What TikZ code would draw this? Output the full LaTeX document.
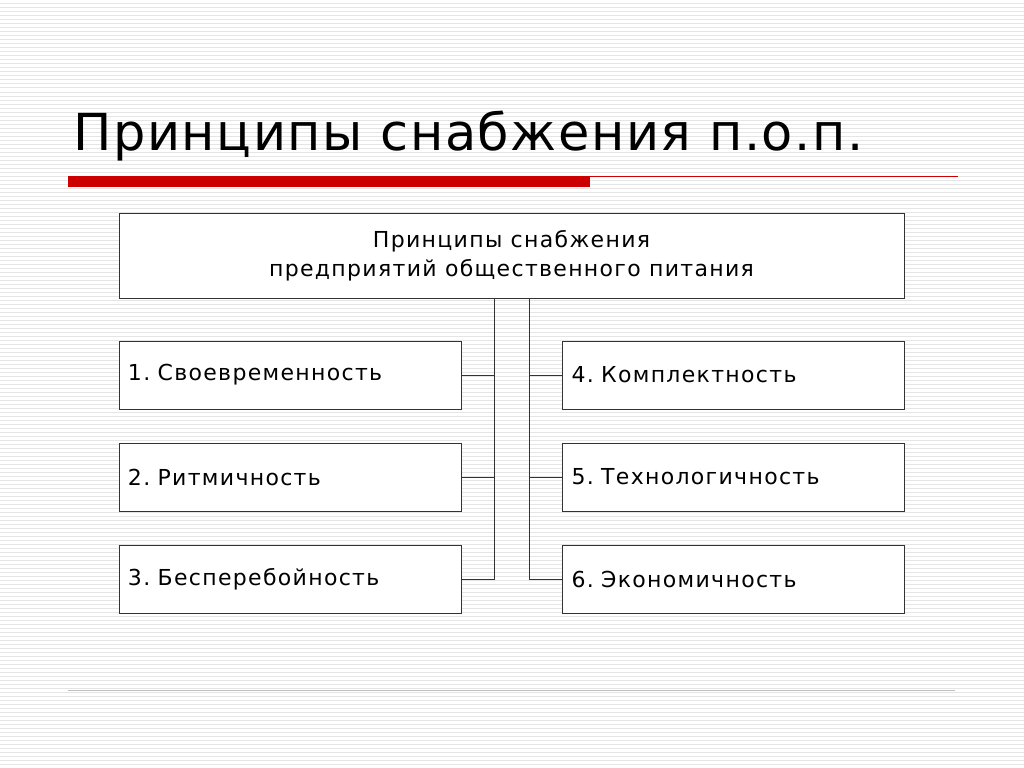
\documentclass[tikz,border=0pt]{standalone}
\usepackage{fontspec}
\setmainfont{DejaVu Sans}
\newfontfamily\boxfont{DejaVu Sans}[LetterSpace=6]
\newfontfamily\titlefont{DejaVu Sans}[LetterSpace=3]
\usetikzlibrary{positioning}
\definecolor{barred}{RGB}{204,0,0}
\tikzset{
  itembox/.style={draw=black!80,fill=white,minimum width=342bp,minimum height=68bp,
    text width=324bp,align=left,font=\boxfont\frenchspacing\fontsize{22bp}{26bp}\selectfont},
  headbox/.style={draw=black!80,fill=white,minimum width=785bp,minimum height=85bp,
    align=center,font=\boxfont\fontsize{22bp}{29bp}\selectfont},
  joint/.style={black!80,thin}
}
\begin{document}
\begin{tikzpicture}[x=1bp,y=-1bp]
\useasboundingbox (0,0) rectangle (1024,768);
% background stripes
\fill[white] (0,0) rectangle (1024,768);
\foreach \y in {0,4,...,768}
  \draw[black!10,line width=1bp] (0,\y) -- (1024,\y);
% title
\node[anchor=west,font=\titlefont\fontsize{51bp}{60bp}\selectfont] (title) at (70,136) {Принципы снабжения п.о.п.};
\fill[barred] (68,176) rectangle (590,187);
\draw[barred,line width=0.8bp] (590,176) -- (958,176);
\draw[black!25,line width=1bp] (68,690) -- (955,690);
% boxes
\node[headbox] (head) at (511.5,255.5) {Принципы снабжения\\предприятий общественного питания};
\node[itembox] (l1) at (290,375) {1. Своевременность};
\node[itembox] (l2) at (290,477) {2. Ритмичность};
\node[itembox] (l3) at (290,579) {3. Бесперебойность};
\node[itembox] (r1) at (733.5,375) {4. Комплектность};
\node[itembox] (r2) at (733.5,477) {5. Технологичность};
\node[itembox] (r3) at (733.5,579) {6. Экономичность};
% connectors
\coordinate (lt) at (494,0 |- head.south);
\coordinate (rt) at (529,0 |- head.south);
\draw[joint] (lt) -- (lt |- l3.east) -- (l3.east);
\draw[joint] (rt) -- (rt |- r3.west) -- (r3.west);
\draw[joint] (l1.east) -- (l1.east -| lt);
\draw[joint] (l2.east) -- (l2.east -| lt);
\draw[joint] (r1.west) -- (r1.west -| rt);
\draw[joint] (r2.west) -- (r2.west -| rt);
\end{tikzpicture}
\end{document}
